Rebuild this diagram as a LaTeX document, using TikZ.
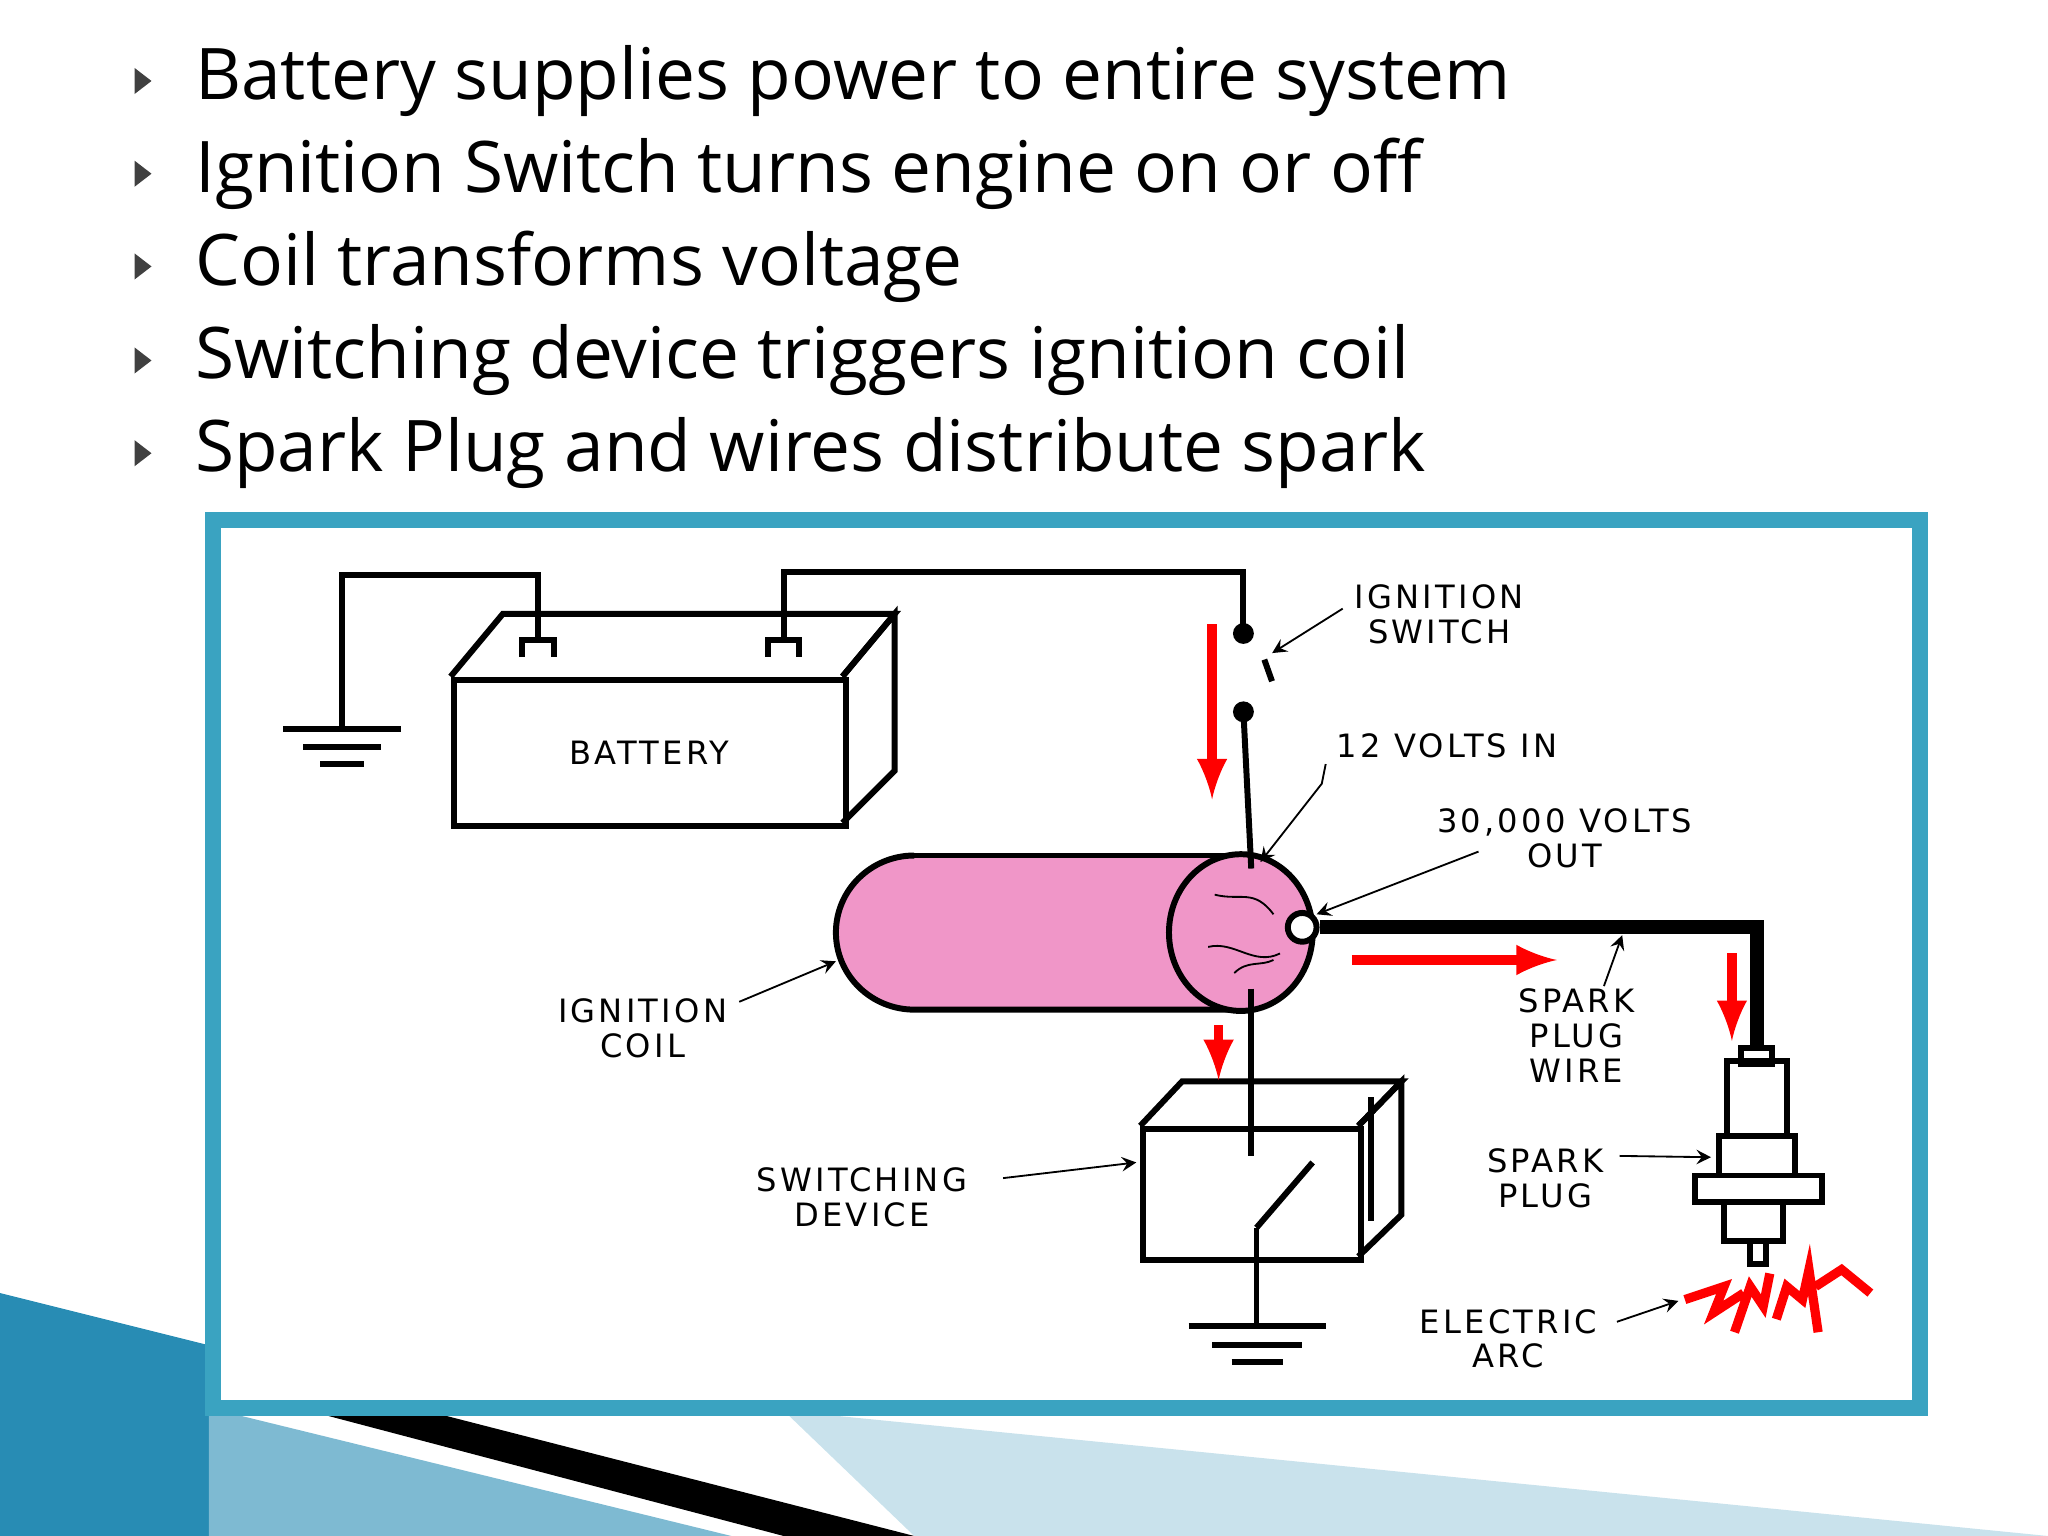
\documentclass[tikz,border=0pt]{standalone}
\usepackage{fontspec}
\setmainfont{Open Sans}
\newfontfamily\lblfont{DejaVu Sans}[LetterSpace=10]
\usetikzlibrary{arrows,positioning,shapes.geometric}
\definecolor{frameteal}{RGB}{58,163,193}
\definecolor{coilpink}{RGB}{240,150,200}
\definecolor{swoosh}{RGB}{40,140,180}
\begin{document}
\begin{tikzpicture}[
    x=0.01cm, y=-0.01cm,
    bullet/.style={anchor=west, font=\fontsize{15.5}{18}\selectfont},
    lbl/.style={font=\lblfont\fontsize{7}{7.6}\selectfont, align=center},
    wire/.style={line width=1.3pt},
    leader/.style={thin,->,>=stealth},
    redarrow/.style={red, line width=2pt,->,>=latex}
]
    \useasboundingbox (0,0) rectangle (1568,1176);
    % slide decoration
    \fill[swoosh] (0,990) -- (160,1030) -- (160,1176) -- (0,1176) -- cycle;
    \fill[swoosh!60] (160,1078) -- (560,1176) -- (160,1176) -- cycle;
    \fill[black] (170,1040) -- (700,1176) -- (600,1176) -- (160,1060) -- cycle;
    \fill[swoosh!25] (600,1080) -- (1568,1176) -- (700,1176) -- cycle;
    % bullets
    \foreach \y/\t in {62/Battery supplies power to entire system,
                       133/Ignition Switch turns engine on or off,
                       204/Coil transforms voltage,
                       276/Switching device triggers ignition coil,
                       347/Spark Plug and wires distribute spark}{
        \fill[black!75] (103,\y-10) -- (116,\y) -- (103,\y+10) -- cycle;
        \node[bullet] at (137,\y) {\t};
    }
    % frame
    \draw[frameteal, fill=white, line width=1.2mm] (163,398) rectangle (1470,1078);
    % battery
    \draw[wire] (345,518) -- (385,470) -- (685,470) -- (645,518);
    \draw[wire] (645,518) -- (685,470) -- (685,590) -- (645,630);
    \node[wire, draw, minimum width=3cm, minimum height=1.12cm, anchor=north west, lbl] (battery) at (345,518) {BATTERY};
    \foreach \tx/\nm in {412/negpost, 600/pospost}{
        \draw[wire] (\tx-12,503) -- (\tx-12,490) -- (\tx+12,490) -- (\tx+12,503);
        \coordinate (\nm) at (\tx,490);
    }
    % ground of battery
    \coordinate (gnda) at (262,558);
    \draw[wire] (negpost) |- (262,440) -- (gnda);
    \draw[wire] (217,558) -- (307,558) (232,572) -- (292,572) (245,585) -- (279,585);
    % ignition switch
    \fill (952,485) circle (8) coordinate (swa);
    \fill (952,545) circle (8) coordinate (swb);
    \draw[wire] (pospost) |- (952,438) -- (swa);
    \draw[wire, dash pattern=on 5pt off 12pt] (968,505) -- (984,550);
    % coil
    \fill[coilpink] (700,655) rectangle (950,773);
    \fill[coilpink] (700,714) ellipse (60 and 59);
    \draw[wire] (700,655) arc (270:90:60 and 59) -- (950,773);
    \draw[wire] (700,655) -- (950,655);
    \draw[wire, fill=coilpink] (950,714) ellipse (55 and 60);
    \node[circle, draw, wire, fill=white, minimum size=0.22cm, inner sep=0] (outterm) at (997,710) {};
    \coordinate (coilin) at (958,665);
    \coordinate (coilout) at (958,757);
    \draw[wire] (swb) -- (coilin);
    \draw (930,685) .. controls (950,690) and (960,680) .. (975,700);
    \draw (925,725) .. controls (945,720) and (960,740) .. (980,730);
    \draw (945,745) .. controls (955,735) and (965,740) .. (975,735);
    % spark plug wire and plug
    \coordinate (bend) at (1345,710);
    \node[draw, wire, minimum width=0.24cm, minimum height=0.12cm, inner sep=0, anchor=north] (plug) at (1345,800) {};
    \draw[line width=3pt] (outterm) -- (bend) -- (plug);
    \draw[wire] (1322,812) -- (1368,812) -- (1368,870) -- (1322,870) -- cycle;
    \draw[wire] (1316,870) rectangle (1374,900);
    \draw[wire] (1298,900) rectangle (1395,920);
    \draw[wire] (1320,920) -- (1320,950) -- (1365,950) -- (1365,920);
    \draw[wire] (1340,950) rectangle (1352,968);
    \draw[red, line width=2pt] (1290,995) -- (1320,985) -- (1312,1005) -- (1335,990)
        (1328,1020) -- (1340,985) -- (1350,1000) -- (1355,975)
        (1360,1010) -- (1368,985) -- (1380,995) -- (1385,972) -- (1392,1020)
        (1390,985) -- (1410,972) -- (1432,990);
    % switching device
    \draw[wire] (873,862) -- (905,828) -- (1073,828) -- (1040,862);
    \draw[wire] (1040,862) -- (1073,828) -- (1073,930) -- (1040,962);
    \draw[wire] (1050,840) -- (1050,935);
    \node[draw, wire, minimum width=1.67cm, minimum height=1cm, anchor=north west] (switchdev) at (873,862) {};
    \coordinate (swtop) at (958,885);
    \coordinate (swbot) at (962,940);
    \draw[wire] (coilout) -- (swtop);
    \draw[wire] (swbot) -- (1005,890);
    \coordinate (gndb) at (962,1015);
    \draw[wire] (swbot) -- (gndb);
    \draw[wire] (910,1015) -- (1015,1015) (928,1030) -- (997,1030) (943,1043) -- (982,1043);
    % red flow arrows
    \draw[redarrow] (928,478) -- (928,612);
    \draw[redarrow] (1035,735) -- (1192,735);
    \draw[redarrow] (1326,730) -- (1326,797);
    \draw[redarrow] (933,785) -- (933,827);
    % labels
    \node[lbl] (lswitch) at (1102,470) {IGNITION\\SWITCH};
    \node[lbl] (lvin) at (1108,571) {12 VOLTS IN};
    \node[lbl] (lvout) at (1198,642) {30,000 VOLTS\\OUT};
    \node[lbl] (lcoil) at (492,787) {IGNITION\\COIL};
    \node[lbl] (lwire) at (1207,793) {SPARK\\PLUG\\WIRE};
    \node[lbl] (lplug) at (1183,902) {SPARK\\PLUG};
    \node[lbl] (ldevice) at (660,917) {SWITCHING\\DEVICE};
    \node[lbl] (larc) at (1155,1025) {ELECTRIC\\ARC};
    \draw[leader] (1028,466) -- (974,500);
    \draw[leader] (1015,585) -- (1012,600) -- (965,660);
    \draw[leader] (1132,652) -- (1008,700);
    \draw[leader] (566,767) -- (640,736);
    \draw[leader] (1228,755) -- (1242,716);
    \draw[leader] (1240,885) -- (1310,886);
    \draw[leader] (768,902) -- (870,890);
    \draw[leader] (1238,1012) -- (1285,996);
\end{tikzpicture}
\end{document}
